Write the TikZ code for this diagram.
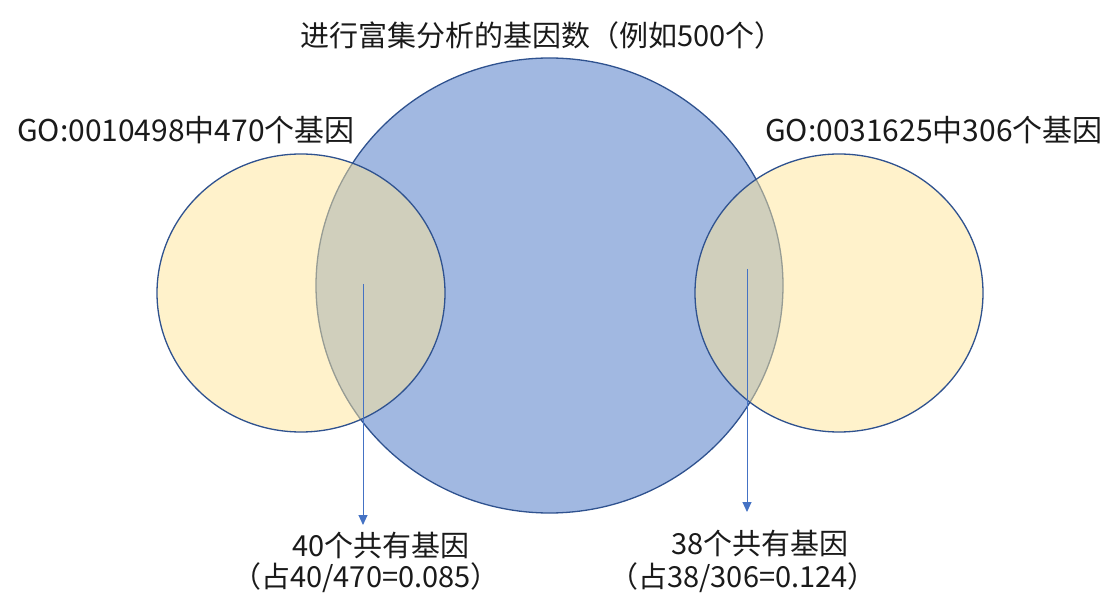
\documentclass[tikz,border=0pt]{standalone}
\usepackage{fontspec}
\newfontfamily\cjk{Noto Sans CJK SC}
\usetikzlibrary{arrows.meta}
\definecolor{bluefill}{HTML}{4472C4}
\definecolor{yelfill}{HTML}{FFE699}
\definecolor{edge}{HTML}{2F528F}
\definecolor{arrowc}{HTML}{4472C4}
\definecolor{txt}{HTML}{1A1A1A}
\tikzset{
  bigset/.style={draw=edge, line width=1.3pt, fill=bluefill, fill opacity=0.5, draw opacity=1},
  goset/.style={draw=edge, line width=1.3pt, fill=yelfill, fill opacity=0.5, draw opacity=1},
  lbl/.style={font=\cjk\fontsize{29}{32}\selectfont, text=txt, inner sep=0pt},
  golbl/.style={lbl, font=\cjk\fontsize{30}{33}\selectfont},
  arr/.style={draw=arrowc, line width=1pt, -{Triangle[length=10pt,width=9pt]}}
}
\begin{document}
\begin{tikzpicture}[x=1pt,y=-1pt]
\useasboundingbox[fill=white] (0,0) rectangle (1112,612);
\path[bigset] (549.5,285.5) ellipse [x radius=233.5, y radius=227.5];
\path[goset] (301,293) ellipse [x radius=144, y radius=139];
\path[goset] (839,293) ellipse [x radius=144, y radius=139];
\node[lbl] (title) at (542,35) {进行富集分析的基因数（例如500个）};
\node[golbl] (goL) at (186,130) {GO:0010498中470个基因};
\node[golbl] (goR) at (934,130) {GO:0031625中306个基因};
\node[lbl] (l1) at (381,545) {40个共有基因};
\node[lbl] (l2) at (366,578) {（占40/470=0.085）};
\node[lbl] (r1) at (760,543) {38个共有基因};
\node[lbl] (r2) at (743,578) {（占38/306=0.124）};
\coordinate (ls) at (363,284);
\coordinate (le) at (363,525);
\coordinate (rs) at (747,269);
\coordinate (re) at (747,512);
\draw[arr] (ls) -- (le);
\draw[arr] (rs) -- (re);
\end{tikzpicture}
\end{document}
